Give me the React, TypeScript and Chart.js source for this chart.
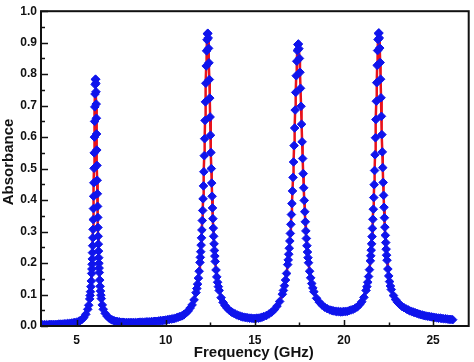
import React, { useEffect, useRef } from "react";
import { Chart, registerables } from "chart.js";

Chart.register(...registerables);

// Frequency (GHz) of each measured point
const frequencyGHz: number[] = [
  3.0, 3.1, 3.2, 3.3, 3.4, 3.5, 3.6, 3.7, 3.8, 3.9, 4.0, 4.1, 4.2, 4.3, 4.4, 4.5, 4.6, 4.7, 4.8, 4.9, 5.0, 5.1, 5.2, 5.3,
  5.404, 5.514, 5.624, 5.679, 5.734, 5.756, 5.778, 5.8, 5.822, 5.844, 5.855, 5.866, 5.877, 5.888, 5.899, 5.91, 5.921,
  5.932, 5.943, 5.954, 5.965, 5.976, 5.987, 5.998, 6.009, 6.02, 6.031, 6.042, 6.053, 6.064, 6.075, 6.086, 6.097, 6.108,
  6.119, 6.13, 6.141, 6.152, 6.163, 6.174, 6.185, 6.196, 6.207, 6.218, 6.229, 6.24, 6.251, 6.262, 6.273, 6.295, 6.317,
  6.339, 6.361, 6.383, 6.438, 6.493, 6.603, 6.713,
  6.8, 6.9, 7.0, 7.1, 7.2, 7.3, 7.4, 7.5, 7.6, 7.7, 7.8, 7.9, 8.0, 8.1, 8.2, 8.3, 8.4, 8.5, 8.6, 8.7, 8.8, 8.9, 9.0, 9.1,
  9.2, 9.3, 9.4, 9.5, 9.6, 9.7, 9.8, 9.9, 10.0, 10.1, 10.2, 10.3, 10.4, 10.5, 10.6, 10.7, 10.8, 10.9, 11.0,
  11.039, 11.149, 11.259, 11.369, 11.479, 11.589, 11.699, 11.743, 11.787, 11.831, 11.875, 11.919, 11.941, 11.963, 11.985,
  12.007, 12.029, 12.051, 12.073, 12.095, 12.117, 12.139, 12.161, 12.183, 12.205, 12.227, 12.249, 12.271, 12.293, 12.315,
  12.337, 12.359, 12.381, 12.403, 12.425, 12.447, 12.469, 12.491, 12.513, 12.535, 12.557, 12.579, 12.601, 12.623, 12.645,
  12.667, 12.689, 12.711, 12.733, 12.755, 12.777, 12.821, 12.865, 12.909, 12.953, 12.997, 13.107, 13.217, 13.327, 13.437,
  13.547, 13.657,
  13.7, 13.8, 13.9, 14.0, 14.1, 14.2, 14.3, 14.4, 14.5, 14.6, 14.7, 14.8, 14.9, 15.0, 15.1, 15.2, 15.3, 15.4, 15.5,
  15.642, 15.792, 15.942, 16.092, 16.242, 16.392, 16.542, 16.602, 16.662, 16.722, 16.782, 16.842, 16.872, 16.902, 16.932,
  16.962, 16.992, 17.022, 17.052, 17.082, 17.112, 17.142, 17.172, 17.202, 17.232, 17.262, 17.292, 17.322, 17.352, 17.382,
  17.412, 17.442, 17.472, 17.502, 17.532, 17.562, 17.592, 17.622, 17.652, 17.682, 17.712, 17.742, 17.772, 17.802, 17.832,
  17.862, 17.892, 17.922, 17.952, 17.982, 18.012, 18.072, 18.132, 18.192, 18.252, 18.312, 18.462, 18.612, 18.762, 18.912,
  19.062, 19.212,
  19.3, 19.4, 19.5, 19.6, 19.7, 19.8, 19.9, 20.0, 20.1, 20.2, 20.3, 20.4,
  20.52, 20.64, 20.76, 20.88, 21.0, 21.12, 21.24, 21.288, 21.336, 21.384, 21.432, 21.48, 21.504, 21.528, 21.552, 21.576,
  21.6, 21.624, 21.648, 21.672, 21.696, 21.72, 21.744, 21.768, 21.792, 21.816, 21.84, 21.864, 21.888, 21.912, 21.936,
  21.96, 21.984, 22.008, 22.032, 22.056, 22.08, 22.104, 22.128, 22.152, 22.176, 22.2, 22.224, 22.248, 22.272, 22.296,
  22.32, 22.344, 22.368, 22.392, 22.416, 22.464, 22.512, 22.56, 22.608, 22.656, 22.776, 22.896, 23.016, 23.136, 23.256,
  23.376,
  23.5, 23.6, 23.7, 23.8, 23.9, 24.0, 24.1, 24.2, 24.3, 24.4, 24.5, 24.6, 24.7, 24.8, 24.9, 25.0, 25.1, 25.2, 25.3, 25.4,
  25.5, 25.6, 25.7, 25.8, 25.9, 26.0, 26.1,
];

// Absorbance read at each frequency above
const absorbance: number[] = [
  0.004, 0.004, 0.004, 0.004, 0.004, 0.005, 0.005, 0.005, 0.005, 0.005, 0.006, 0.006, 0.006, 0.007, 0.007, 0.008, 0.008,
  0.009, 0.01, 0.011, 0.012, 0.014, 0.017, 0.021,
  0.027, 0.037, 0.053, 0.066, 0.086, 0.097, 0.109, 0.125, 0.143, 0.167, 0.181, 0.196, 0.213, 0.233, 0.255, 0.28, 0.307,
  0.338, 0.373, 0.412, 0.455, 0.501, 0.55, 0.6, 0.65, 0.696, 0.737, 0.767, 0.783, 0.784, 0.771, 0.744, 0.705, 0.66,
  0.61, 0.559, 0.51, 0.463, 0.42, 0.38, 0.345, 0.313, 0.285, 0.26, 0.238, 0.217, 0.199, 0.184, 0.17, 0.146, 0.126,
  0.111, 0.098, 0.087, 0.067, 0.053, 0.04, 0.031,
  0.026, 0.022, 0.019, 0.017, 0.015, 0.014, 0.013, 0.012, 0.012, 0.011, 0.011, 0.011, 0.011, 0.011, 0.011, 0.011, 0.011,
  0.012, 0.012, 0.012, 0.012, 0.013, 0.013, 0.013, 0.014, 0.014, 0.015, 0.015, 0.016, 0.017, 0.017, 0.018, 0.019, 0.02,
  0.021, 0.022, 0.023, 0.024, 0.026, 0.028, 0.03, 0.032, 0.035,
  0.037, 0.042, 0.048, 0.057, 0.067, 0.083, 0.106, 0.119, 0.133, 0.152, 0.174, 0.202, 0.218, 0.236, 0.257,
  0.28, 0.305, 0.335, 0.367, 0.404, 0.445, 0.49, 0.541, 0.595, 0.653, 0.712, 0.771, 0.826, 0.874, 0.909,
  0.928, 0.93, 0.915, 0.882, 0.836, 0.783, 0.724, 0.664, 0.606, 0.551, 0.5, 0.454, 0.412, 0.375, 0.341,
  0.311, 0.285, 0.261, 0.24, 0.222, 0.205, 0.178, 0.156, 0.139, 0.125, 0.113, 0.09, 0.075, 0.065, 0.057,
  0.051, 0.046,
  0.044, 0.041, 0.038, 0.035, 0.033, 0.031, 0.029, 0.028, 0.027, 0.026, 0.025, 0.025, 0.024, 0.024, 0.025, 0.025, 0.026,
  0.028, 0.03,
  0.033, 0.038, 0.044, 0.052, 0.063, 0.078, 0.101, 0.113, 0.128, 0.146, 0.167, 0.195, 0.21, 0.228, 0.247,
  0.27, 0.294, 0.323, 0.354, 0.389, 0.429, 0.472, 0.521, 0.573, 0.629, 0.686, 0.742, 0.795, 0.841, 0.875,
  0.894, 0.896, 0.881, 0.85, 0.806, 0.755, 0.698, 0.641, 0.585, 0.532, 0.484, 0.439, 0.399, 0.363, 0.331,
  0.302, 0.278, 0.255, 0.235, 0.217, 0.201, 0.174, 0.153, 0.135, 0.121, 0.109, 0.088, 0.076, 0.067, 0.06,
  0.055, 0.051,
  0.05, 0.048, 0.047, 0.046, 0.046, 0.045, 0.045, 0.046, 0.046, 0.047, 0.049, 0.051,
  0.053, 0.057, 0.061, 0.068, 0.077, 0.091, 0.113, 0.125, 0.139, 0.157, 0.179, 0.207, 0.223, 0.241, 0.261, 0.284,
  0.31, 0.339, 0.371, 0.408, 0.449, 0.494, 0.544, 0.598, 0.656, 0.714, 0.773, 0.828, 0.875, 0.91, 0.929,
  0.931, 0.915, 0.883, 0.837, 0.784, 0.725, 0.666, 0.608, 0.553, 0.503, 0.456, 0.415, 0.377, 0.344, 0.314,
  0.288, 0.265, 0.244, 0.225, 0.209, 0.181, 0.159, 0.141, 0.127, 0.116, 0.097, 0.084, 0.075, 0.068, 0.062,
  0.058,
  0.054, 0.051, 0.048, 0.046, 0.044, 0.042, 0.04, 0.038, 0.036, 0.035, 0.033, 0.032, 0.031, 0.03, 0.029, 0.028, 0.027,
  0.026, 0.025, 0.025, 0.024, 0.023, 0.023, 0.022, 0.021, 0.021, 0.02,
];

const xMajorTicks = [5, 10, 15, 20, 25];
const xMinorTicks = [7.5, 12.5, 17.5, 22.5];
const yMajorTicks = [0, 0.1, 0.2, 0.3, 0.4, 0.5, 0.6, 0.7, 0.8, 0.9, 1.0];
const yMinorTicks = [0.05, 0.15, 0.25, 0.35, 0.45, 0.55, 0.65, 0.75, 0.85, 0.95];
const xTitle = "Frequency (GHz)";
const yTitle = "Absorbance";

const FONT = "'Liberation Sans', Arial, Helvetica, sans-serif";
const INK = "#111111";

const framePlugin = {
  id: "frameAndTicks",
  afterDatasetsDraw(chart: any) {
    const { ctx, chartArea: a, scales } = chart;
    const xs = scales.x;
    const ys = scales.y;
    ctx.save();
    ctx.strokeStyle = INK;
    ctx.lineWidth = 1.5;
    ctx.beginPath();
    for (const v of xMajorTicks) {
      const px = Math.round(xs.getPixelForValue(v)) + 0.5;
      ctx.moveTo(px, a.bottom);
      ctx.lineTo(px, a.bottom - 6);
    }
    for (const v of xMinorTicks) {
      const px = Math.round(xs.getPixelForValue(v)) + 0.5;
      ctx.moveTo(px, a.bottom);
      ctx.lineTo(px, a.bottom - 3.5);
    }
    for (const v of yMajorTicks) {
      const py = Math.round(ys.getPixelForValue(v)) + 0.5;
      ctx.moveTo(a.left, py);
      ctx.lineTo(a.left + 7, py);
    }
    for (const v of yMinorTicks) {
      const py = Math.round(ys.getPixelForValue(v)) + 0.5;
      ctx.moveTo(a.left, py);
      ctx.lineTo(a.left + 4, py);
    }
    ctx.stroke();
    ctx.lineWidth = 2;
    ctx.strokeRect(a.left, a.top, a.right - a.left, a.bottom - a.top);
    ctx.fillStyle = INK;
    ctx.font = `bold 15px ${FONT}`;
    ctx.textAlign = "center";
    ctx.textBaseline = "middle";
    ctx.fillText(xTitle, (a.left + a.right) / 2 - 1, 353);
    ctx.translate(9, 162);
    ctx.rotate(-Math.PI / 2);
    ctx.fillText(yTitle, 0, 0);
    ctx.restore();
  },
};

export default function App() {
  const canvasRef = useRef<HTMLCanvasElement | null>(null);

  useEffect(() => {
    const canvas = canvasRef.current;
    if (!canvas) return;
    const points = frequencyGHz.map((f, i) => ({ x: f, y: absorbance[i] }));
    const chart = new Chart(canvas, {
      type: "scatter",
      data: {
        datasets: [
          {
            data: points,
            showLine: true,
            borderColor: "#e8121a",
            borderWidth: 2.5,
            pointStyle: "rectRot",
            pointRadius: 4.3,
            pointBorderWidth: 1,
            pointBackgroundColor: "#0f14ec",
            pointBorderColor: "#0f14ec",
            tension: 0,
          },
        ],
      },
      options: {
        responsive: false,
        maintainAspectRatio: false,
        animation: false,
        devicePixelRatio: 1,
        events: [],
        layout: { padding: { top: 8, right: 1, bottom: 0, left: 0 } },
        plugins: { legend: { display: false }, tooltip: { enabled: false }, title: { display: false } },
        scales: {
          x: {
            type: "linear",
            min: 3,
            max: 27,
            grid: { display: false, drawTicks: false },
            border: { display: false },
            afterBuildTicks: (s: any) => {
              s.ticks = xMajorTicks.map((v) => ({ value: v }));
            },
            afterFit: (s: any) => {
              s.height = 36;
            },
            ticks: {
              autoSkip: false,
              maxRotation: 0,
              padding: 7,
              color: INK,
              font: { family: FONT, size: 12, weight: "bold" },
              callback: (v: any) => String(v),
            },
          },
          y: {
            type: "linear",
            min: 0,
            max: 1,
            grid: { display: false, drawTicks: false },
            border: { display: false },
            afterBuildTicks: (s: any) => {
              s.ticks = yMajorTicks.map((v) => ({ value: v }));
            },
            afterFit: (s: any) => {
              s.width = 41;
            },
            ticks: {
              autoSkip: false,
              padding: 4,
              color: INK,
              font: { family: FONT, size: 12, weight: "bold" },
              callback: (v: any) => Number(v).toFixed(1),
            },
          },
        },
      },
      plugins: [framePlugin],
    });
    return () => chart.destroy();
  }, []);

  return (
    <div style={{ position: "fixed", left: 0, top: 0, width: 474, height: 362, background: "#ffffff" }}>
      <canvas ref={canvasRef} width={474} height={362} style={{ display: "block", width: 474, height: 362 }} />
    </div>
  );
}
